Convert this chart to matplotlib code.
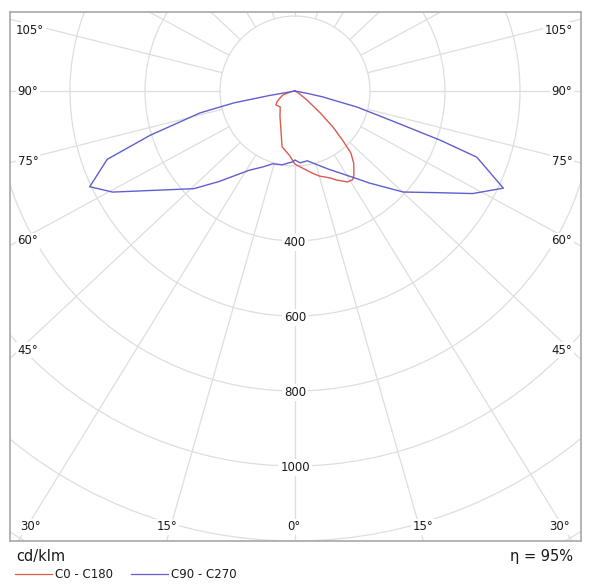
import numpy as np
import matplotlib
matplotlib.use("Agg")
import matplotlib.pyplot as plt
from matplotlib.patches import Circle
from matplotlib.lines import Line2D

# ---- data (gamma in degrees, negative = C180 / C270 side; intensity in cd/klm)
red_gamma = [-90, -80, -72, -65, -59, -54, -43, -30, -20, -13, -5, 0, 4, 12, 16, 22, 25,
             30, 33, 35, 39, 42, 44, 46.5, 49, 53, 60, 90]
red_I = [0, 10, 34, 44, 56, 63, 58, 80, 110, 153, 172, 195, 203, 224, 236, 250, 262,
         280, 282, 274, 249, 223, 183, 140, 89, 40, 10, 0]

blue_gamma = [-90, -80, -79, -77, -73, -70, -65, -61, -55, -46, -40, -30, -23, -17, -10, -2,
              0, 4, 10, 17, 23, 33, 39, 47, 55, 60, 65, 70, 71.3, 73, 75.5, 76.7, 78, 79, 90]
blue_I = [0, 70, 165, 260, 404, 533, 604, 556, 462, 375, 315, 244, 220, 203, 200, 189,
          184, 192, 189, 206, 226, 272, 316, 395, 473, 547, 613, 516, 408, 265, 171, 104, 76, 35, 0]

series_names = ["C0 - C180", "C90 - C270"]
series_colors = ["#dc5a4e", "#5f5fd0"]

ring_values = [200, 400, 600, 800, 1000, 1200, 1400, 1600]
ring_labels = [400, 600, 800, 1000]
ray_step = 15

side_angle_labels = ["105°", "90°", "75°", "60°", "45°"]
side_label_py = [30, 91, 161, 241, 350]
bottom_angle_labels = ["30°", "15°", "0°", "15°", "30°"]
bottom_label_px = [30, 167, 294, 423, 559]

unit_label = "cd/klm"
eta_label = "η = 95%"

# ---- figure geometry (pixels)
W, H = 600, 587
cx, cy = 295, 91          # polar centre in pixels
scale = 0.375             # px per cd/klm
fl, fr, ft, fb = 9.5, 580.5, 12, 541
ray_stretch = 1.065       # horizontal stretch of the angle rays seen in the source

fig = plt.figure(figsize=(W / 100, H / 100), dpi=100)
ax = fig.add_axes([fl / W, (H - fb) / H, (fr - fl) / W, (fb - ft) / H])
ax.set_xlim((fl - cx) / scale, (fr - cx) / scale)
ax.set_ylim((cy - fb) / scale, (cy - ft) / scale)
ax.set_xticks([])
ax.set_yticks([])
for s in ax.spines.values():
    s.set_color("#a8a8a8")
    s.set_linewidth(1.2)

def px2data(px, py):
    return (px - cx) / scale, (cy - py) / scale

grid_c = "#dedede"
for r in ring_values:
    ax.add_patch(Circle((0, 0), r, fill=False, ec=grid_c, lw=0.9, zorder=1))
for a in np.arange(0, 360, ray_step):
    t = np.radians(a)
    d = np.array([ray_stretch * np.sin(t), -np.cos(t)])
    d /= np.hypot(*d)
    ax.plot([200 * d[0], 2500 * d[0]], [200 * d[1], 2500 * d[1]],
            color=grid_c, lw=0.9, zorder=1)

# curves
for g, I, col in [(red_gamma, red_I, series_colors[0]), (blue_gamma, blue_I, series_colors[1])]:
    g = np.radians(np.array(g, float))
    I = np.array(I, float)
    ax.plot(I * np.sin(g), -I * np.cos(g), color=col, lw=1.0, zorder=3)

bbox = dict(boxstyle="square,pad=0.15", fc="white", ec="none")
txt_c = "#1a1a1a"
fs = 8.5
for r in ring_labels:
    ax.text(0, -r - 4, str(r), ha="center", va="center", fontsize=fs, color=txt_c,
            bbox=bbox, zorder=4)
for lab, py in zip(side_angle_labels, side_label_py):
    x, y = px2data(28 if lab != "105°" else 30, py)
    ax.text(x, y, lab, ha="center", va="center", fontsize=fs, color=txt_c, bbox=bbox, zorder=4)
    x, y = px2data(562 if lab != "105°" else 559, py)
    ax.text(x, y, lab, ha="center", va="center", fontsize=fs, color=txt_c, bbox=bbox, zorder=4)
for lab, px in zip(bottom_angle_labels, bottom_label_px):
    x, y = px2data(px, 527)
    ax.text(x, y, lab, ha="center", va="center", fontsize=fs, color=txt_c, bbox=bbox, zorder=4)

# footer
fig.text(16 / W, 1 - 556 / H, unit_label, ha="left", va="center", fontsize=10.5, color=txt_c)
fig.text(573 / W, 1 - 556 / H, eta_label, ha="right", va="center", fontsize=10.5, color=txt_c)
leg_y = 1 - 574 / H
fig.add_artist(Line2D([15 / W, 52 / W], [leg_y, leg_y], color=series_colors[0], lw=0.9))
fig.text(55 / W, leg_y, series_names[0], ha="left", va="center", fontsize=8.5, color=txt_c)
fig.add_artist(Line2D([131 / W, 168 / W], [leg_y, leg_y], color=series_colors[1], lw=0.9))
fig.text(171 / W, leg_y, series_names[1], ha="left", va="center", fontsize=8.5, color=txt_c)

fig.savefig("out.png", dpi=100, facecolor="white")
